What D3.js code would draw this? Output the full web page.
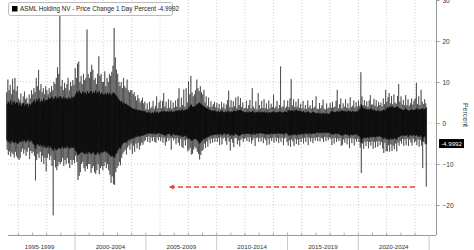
<!DOCTYPE html>
<html><head><meta charset="utf-8">
<script src="https://cdn.jsdelivr.net/npm/d3@7"></script>
<style>body{margin:0;background:#fff}svg{display:block}text{font-family:"Liberation Sans",Arial,sans-serif}</style>
</head><body>
<svg id="c" width="474" height="250"></svg>
<script>
// ---- data ----
const seriesName = "ASML Holding NV - Price Change 1 Day Percent";
const lastValue = -4.9992;
const lastDate = "2024-11-08";
const firstMonth = "1995-03"; // monthly values start here
// monthly highest daily % change
const monthHigh = [
 7.5,10.6,8,9.3,7,10.8,8.2,11,7.8,9,                 // 1995 (Mar-Dec)
 6,5.5,7.2,5,6.5,7.7,5.8,6.2,4.8,7,6,8,              // 1996
 7,8.5,7.5,11,9,13,8,9.5,7.5,8.5,7,9,                // 1997
 8,7,8.5,7.5,9,8,10,9.5,11,13.6,12,27,               // 1998
 9,10.5,8,9.8,8.5,9.5,11,8,10,9,10.5,9.3,            // 1999
 13.4,11,14.5,15,10,11.5,9.5,12,10.5,11,22.8,12,     // 2000
 11,12.5,14.2,13,10.5,11,9.5,12,16.3,11.5,12,10,     // 2001
 10,12.6,9,11,10,12,11.5,12.5,14,23.2,16,13,         // 2002
 12,10,9,10,8.5,11,9,8.5,10.6,8,7.5,8,               // 2003
 8,7,7.5,6.5,5.5,6.8,6,5,5.5,6.2,4.8,5.2,            // 2004
 3.4,4.8,3.3,5.2,3.6,4.0,5.4,3.5,4.2,6.5,3.6,5.0,    // 2005
 5.5,3.6,5.4,7.3,4.0,5.2,3.6,5.8,3.7,5.5,3.5,5.0,    // 2006
 3.8,5.5,4.0,6.0,8.5,3.9,6.2,4.4,8.2,4.0,8.5,5.0,    // 2007
 10.2,7,11.5,7.5,6.5,7,8,10.6,8.5,7.8,9,7.5,         // 2008
 7,8.1,5.0,6.5,4.2,6.2,3.9,5.3,4.0,4.6,5.2,3.8,      // 2009
 4.9,3.6,4.6,3.4,5.2,3.8,4.8,3.5,4.5,5.6,7.9,3.9,    // 2010
 5.6,3.8,5.3,4.1,6.2,3.7,6.5,4.4,6.1,3.9,5.0,3.6,    // 2011
 3.7,5.4,3.5,4.4,5.6,3.6,8.5,4.0,3.5,5.3,3.4,7.3,    // 2012
 4.4,3.5,5.4,3.7,5.8,3.6,4.8,3.4,5.5,3.7,4.7,3.9,    // 2013
 6.9,3.6,4.0,5.4,3.5,4.4,13.8,3.8,4.1,5.6,3.6,4.0,   // 2014
 5.5,3.9,6.0,10.7,4.3,5.8,3.9,5.2,4.0,5.9,3.7,4.7,   // 2015
 3.6,5.4,3.5,4.4,3.4,5.5,3.8,4.3,3.5,5.6,3.7,4.0,    // 2016
 6.5,3.5,3.4,4.9,3.6,4.3,5.7,3.5,3.3,4.8,3.6,3.8,    // 2017
 4.9,3.7,5.2,3.8,4.0,5.4,8.1,3.6,4.6,6.0,3.6,4.8,    // 2018
 4.0,5.8,3.7,4.8,3.6,6.3,3.9,4.2,5.5,3.8,5.1,4.0,    // 2019
 5.5,4.2,12.4,6.5,4.4,5.6,4.2,5.3,4.0,5.5,6.8,4.5,   // 2020
 4.5,5.9,4.2,5.6,4.0,5.2,4.4,5.0,4.1,6.0,4.6,8.1,    // 2021
 5.2,6.3,7.3,4.8,6.6,4.6,7.0,5.0,4.7,6.6,9.5,5.2,    // 2022
 6.5,4.5,5.6,4.3,6.8,4.4,5.8,4.2,4.8,6.0,4.5,5.5,    // 2023
 6.0,9.8,4.6,6.5,4.4,8.1,5.2,4.6,5.8,4.8             // 2024 (Jan-Oct)
];
// monthly lowest daily % change
const monthLow = [
 -6.5,-7.8,-6.9,-8.2,-7.2,-7.6,-8.4,-7,-8.1,-8.6,
 -9,-8.5,-7,-6.2,-7.5,-6.5,-8,-7,-6,-8.8,-6.8,-7.4,
 -7,-8,-14,-9,-7.5,-8.5,-7,-9.5,-8,-10,-8.5,-11.8,
 -8.5,-7.5,-9,-8,-10.5,-22.5,-9,-10.8,-11.5,-10.5,-9.5,-10,
 -9.5,-8.5,-10.5,-9,-10,-8.5,-9.8,-11,-9,-10.2,-9,-9.8,
 -8,-9.5,-13.9,-12.9,-12,-10,-9.5,-11,-11.8,-10.5,-11.2,-10,
 -10,-12.2,-11,-10.5,-12,-12.4,-11.5,-10,-12.5,-11,-10.5,-11.5,
 -10.5,-9.5,-11,-10,-11.5,-12.6,-14.6,-13,-14.9,-15.1,-12,-11,
 -10.5,-9.5,-10.3,-8.5,-7.5,-7,-6.5,-7.7,-6,-5.5,-6.5,-5,
 -7.5,-5.5,-7,-5,-6.2,-4.8,-6.5,-5.5,-4.8,-5.3,-4.5,-4.2,
 -3.4,-4.6,-3.3,-4.8,-3.5,-4.4,-3.4,-4.6,-4.8,-3.5,-4.2,-3.4,
 -4.4,-3.5,-4.8,-3.6,-5.5,-4.6,-3.6,-4.3,-3.7,-6.5,-3.6,-4.2,
 -3.8,-5.2,-3.7,-4.8,-5.5,-3.9,-5.8,-6.1,-4.2,-5.5,-4.0,-6.9,
 -6.5,-6,-7.7,-7.5,-6.5,-5.8,-6.2,-7,-7.5,-8.9,-7.8,-6.8,
 -6.5,-5.0,-6.1,-4.5,-5.8,-4.0,-5.0,-3.8,-4.8,-3.7,-4.6,-3.6,
 -4.6,-3.6,-5.4,-3.5,-5.2,-3.8,-3.5,-4.4,-5.3,-3.6,-4.5,-6.7,
 -3.9,-4.8,-5.9,-3.7,-3.6,-5.2,-4.2,-5.7,-4.1,-3.7,-4.6,-3.8,
 -3.6,-4.4,-3.5,-4.6,-3.5,-5.0,-4.2,-3.6,-5.6,-3.7,-3.5,-4.6,
 -3.6,-4.5,-3.5,-4.9,-3.7,-4.2,-5.4,-3.8,-5.2,-3.7,-4.4,-3.6,
 -4.8,-3.5,-4.5,-3.6,-4.9,-3.7,-4.6,-3.6,-5.4,-3.8,-3.5,-4.6,
 -5.5,-4.2,-5.8,-4.0,-4.5,-5.6,-3.8,-5.1,-4.0,-5.4,-3.9,-4.6,
 -3.7,-5.0,-3.6,-4.6,-3.5,-5.4,-3.6,-4.5,-3.7,-4.9,-3.6,-4.3,
 -3.5,-4.4,-3.4,-4.5,-3.6,-3.8,-4.6,-3.4,-4.4,-3.5,-4.2,-3.5,
 -3.8,-5.4,-3.7,-5.0,-3.6,-4.6,-3.8,-4.4,-3.7,-5.6,-5.3,-4.0,
 -4.8,-3.7,-5.2,-3.8,-6.1,-3.7,-4.9,-3.8,-5.5,-3.9,-4.6,-3.8,
 -4.6,-6.0,-12.2,-5.0,-6.3,-4.6,-5.6,-4.5,-6.2,-4.6,-5.5,-4.5,
 -6.3,-4.6,-6.0,-4.5,-5.8,-4.4,-5.4,-4.6,-6.2,-7.3,-4.8,-6.9,
 -6.9,-5.4,-7.0,-5.2,-6.8,-5.5,-6.4,-5.0,-6.9,-4.8,-5.5,-4.4,
 -5.0,-3.9,-5.6,-4.0,-5.4,-3.8,-5.6,-4.0,-4.7,-5.5,-3.8,-4.8,
 -4.4,-5.4,-4.0,-5.8,-4.1,-5.5,-11.0,-4.6,-5.2,-15.5
];
// monthly typical up-day (edge of the dense core)
const coreHigh = [
 4.6,5.2,4.8,5.5,4.4,5.0,5.3,4.7,5.1,4.9,
 4.3,4.8,4.1,4.6,4.9,4.2,4.5,4.7,4.0,4.6,4.4,4.8,
 5.2,5.7,5.0,5.8,5.4,6.0,5.1,5.5,5.3,5.9,5.2,5.6,
 5.6,6.2,5.8,6.0,6.4,5.7,6.1,6.5,5.9,6.3,6.0,6.6,
 6.2,5.8,6.4,5.9,6.1,5.7,6.3,6.0,5.8,6.4,6.1,6.5,
 7.0,7.6,7.2,7.9,7.4,7.1,7.7,7.3,7.5,7.0,7.8,7.2,
 7.4,7.8,7.1,7.6,7.3,7.9,7.2,7.5,7.7,7.0,7.4,7.1,
 6.8,7.2,6.9,7.4,7.0,7.3,6.7,7.1,7.5,7.2,6.8,6.5,
 6.0,5.6,5.2,5.4,4.8,5.0,4.6,4.7,4.4,4.2,4.0,3.8,
 3.6,3.4,3.5,3.2,3.3,3.0,3.2,3.1,2.9,3.0,2.8,2.9,
 2.6,2.4,2.7,2.5,2.3,2.6,2.4,2.8,2.5,2.7,2.4,2.6,
 2.7,2.9,2.6,3.0,2.8,2.7,2.9,2.6,2.8,3.0,2.7,2.8,
 2.8,3.0,2.9,3.1,3.2,2.9,3.3,3.0,3.2,3.1,3.4,3.3,
 3.8,4.2,4.5,4.0,3.9,4.1,4.3,4.6,4.8,5.0,4.7,4.4,
 4.2,4.0,3.8,3.6,3.5,3.3,3.2,3.0,3.1,2.9,3.0,2.8,
 2.7,2.9,2.6,2.8,3.0,2.7,2.6,2.8,2.7,2.9,2.8,2.6,
 2.8,2.7,3.0,2.9,2.8,3.1,3.0,3.2,3.1,2.9,2.8,2.7,
 2.6,2.7,2.5,2.8,2.6,2.7,2.9,2.6,2.5,2.7,2.6,2.8,
 2.6,2.5,2.7,2.6,2.8,2.5,2.6,2.4,2.7,2.5,2.6,2.7,
 2.8,2.6,2.5,2.7,2.6,2.8,2.7,2.5,2.6,2.8,2.7,2.6,
 3.0,3.2,2.9,3.1,3.0,2.8,3.1,3.3,3.0,2.9,3.0,2.8,
 2.7,2.9,2.6,2.5,2.7,2.8,2.6,2.4,2.5,2.7,2.6,2.5,
 2.4,2.3,2.5,2.2,2.4,2.3,2.5,2.2,2.3,2.4,2.2,2.3,
 2.6,2.9,2.8,2.7,2.6,2.8,2.9,2.7,2.8,3.0,3.1,2.9,
 2.9,2.7,2.8,3.0,2.9,2.8,2.7,2.9,2.8,2.7,2.9,2.8,
 3.2,3.5,4.5,4.0,3.6,3.4,3.5,3.3,3.4,3.2,3.5,3.3,
 3.1,3.3,3.0,2.9,3.1,2.8,3.0,2.9,3.1,3.2,3.0,3.4,
 3.9,3.7,4.0,3.8,4.1,3.9,3.7,3.8,4.0,3.9,3.6,3.5,
 3.4,3.2,3.1,3.3,3.5,3.2,3.0,3.1,3.2,3.3,3.1,3.2,
 3.3,3.6,3.2,3.4,3.3,3.5,3.6,3.3,3.4,3.8
];
// monthly typical down-day (edge of the dense core)
const coreLow = [
 -4.2,-4.7,-4.4,-5.0,-4.3,-4.6,-4.9,-4.5,-4.8,-5.1,
 -4.8,-4.4,-4.6,-4.1,-4.5,-4.2,-4.7,-4.3,-4.0,-4.6,-4.2,-4.5,
 -5.0,-5.4,-6.2,-5.3,-5.1,-5.6,-5.2,-5.7,-5.4,-5.9,-5.5,-6.1,
 -5.8,-5.5,-6.0,-5.7,-6.3,-6.8,-6.0,-6.4,-6.6,-6.2,-6.0,-6.3,
 -6.0,-5.7,-6.2,-5.9,-6.1,-5.6,-6.0,-6.3,-5.8,-6.1,-5.9,-6.2,
 -6.8,-7.2,-7.8,-7.6,-7.3,-7.0,-7.1,-7.4,-7.6,-7.2,-7.5,-7.0,
 -7.2,-7.6,-7.3,-7.0,-7.5,-7.8,-7.4,-7.1,-7.7,-7.3,-7.0,-7.2,
 -7.0,-6.8,-7.2,-7.0,-7.5,-7.8,-8.2,-7.9,-8.3,-8.4,-7.6,-7.2,
 -6.5,-6.0,-6.2,-5.5,-5.0,-4.8,-4.6,-4.8,-4.3,-4.0,-4.2,-3.8,
 -3.8,-3.5,-3.7,-3.3,-3.4,-3.1,-3.3,-3.2,-3.0,-3.1,-2.9,-2.8,
 -2.5,-2.7,-2.4,-2.6,-2.5,-2.7,-2.4,-2.6,-2.8,-2.5,-2.6,-2.4,
 -2.7,-2.6,-2.8,-2.9,-3.1,-2.8,-2.7,-2.6,-2.8,-3.2,-2.7,-2.6,
 -2.9,-3.0,-2.8,-3.0,-3.2,-2.9,-3.3,-3.4,-3.2,-3.0,-3.3,-3.6,
 -3.9,-3.8,-4.3,-4.2,-4.0,-3.8,-3.9,-4.2,-4.5,-5.0,-4.7,-4.3,
 -4.0,-3.8,-3.7,-3.6,-3.4,-3.3,-3.1,-2.9,-3.0,-2.9,-2.8,-2.8,
 -2.8,-2.6,-2.8,-2.6,-3.0,-2.7,-2.5,-2.7,-2.8,-2.6,-2.7,-3.1,
 -2.8,-2.9,-3.1,-2.7,-2.6,-2.9,-3.0,-3.1,-2.9,-2.7,-2.6,-2.7,
 -2.6,-2.5,-2.7,-2.5,-2.8,-2.6,-2.8,-2.5,-2.9,-2.6,-2.4,-2.6,
 -2.5,-2.4,-2.6,-2.5,-2.7,-2.6,-2.8,-2.7,-2.8,-2.6,-2.5,-2.7,
 -2.6,-2.5,-2.7,-2.4,-2.6,-2.5,-2.7,-2.5,-2.8,-2.6,-2.4,-2.5,
 -2.9,-3.1,-2.8,-3.0,-2.8,-2.9,-2.7,-3.0,-2.8,-2.7,-2.9,-2.7,
 -2.6,-2.8,-2.5,-2.6,-2.5,-2.8,-2.4,-2.6,-2.7,-2.5,-2.6,-2.5,
 -2.4,-2.2,-2.5,-2.3,-2.5,-2.3,-2.4,-2.2,-2.5,-2.3,-2.4,-2.3,
 -2.6,-2.8,-2.7,-2.8,-2.5,-2.6,-2.7,-2.6,-2.9,-3.0,-3.1,-2.8,
 -2.8,-2.7,-2.9,-2.8,-3.2,-2.7,-2.9,-3.0,-2.7,-2.9,-2.6,-2.9,
 -3.2,-3.5,-4.8,-3.9,-3.5,-3.6,-3.7,-3.4,-3.6,-3.5,-3.3,-3.5,
 -3.4,-3.3,-3.5,-3.2,-3.4,-3.1,-3.3,-3.4,-3.6,-3.9,-3.5,-3.8,
 -4.0,-3.8,-4.1,-3.7,-4.0,-3.9,-3.6,-3.8,-4.0,-3.5,-3.4,-3.2,
 -3.1,-2.9,-3.2,-3.0,-3.1,-2.8,-3.3,-3.0,-2.9,-3.2,-2.8,-3.0,
 -3.1,-2.9,-3.2,-3.4,-3.0,-3.3,-4.5,-3.5,-3.2,-5.0
];
const yTicks = [30,20,10,0,-10,-20];
const periodLabels = ["1995-1999","2000-2004","2005-2009","2010-2014","2015-2019","2020-2024"];
const periodStarts = [1995,2000,2005,2010,2015,2020];
const arrowValue = -15.6, arrowFrom = "2024-01-01", arrowTo = "2006-08-15";

// ---- scales ----
const svg = d3.select("#c");
const x = d3.scaleTime().domain([new Date(1995,0,1), new Date(2025,0,1)]).range([4.2, 429.2]);
const y = d3.scaleLinear().domain([-27.3, 30]).range([235, 0]);
const plotL = 8, plotR = 436, plotB = 235;

// gridlines
const g = svg.append("g");
g.selectAll("line.h").data(yTicks.filter(v=>v<30)).join("line")
  .attr("x1", plotL).attr("x2", plotR).attr("y1", d=>y(d)).attr("y2", d=>y(d))
  .attr("stroke","#c4c4c4").attr("stroke-width",0.8).attr("stroke-dasharray","1,2");
const gridYears = d3.range(1996, 2025, 2).map(yr => new Date(yr,0,1));
g.selectAll("line.v").data(gridYears).join("line")
  .attr("x1", d=>x(d)).attr("x2", d=>x(d)).attr("y1", 0).attr("y2", plotB)
  .attr("stroke","#c4c4c4").attr("stroke-width",0.8).attr("stroke-dasharray","1,2");

// series: within each month visit core edges and the month's extremes
const [fy, fm] = firstMonth.split("-").map(Number);
const pts = [];
monthHigh.forEach((h,i)=>{
  const mo = fm-1+i;
  pts.push([new Date(fy, mo, 2),  coreHigh[i]]);
  pts.push([new Date(fy, mo, 6),  h]);
  pts.push([new Date(fy, mo, 8),  coreLow[i]]);
  pts.push([new Date(fy, mo, 11), coreHigh[i]]);
  pts.push([new Date(fy, mo, 14), coreLow[i]]);
  pts.push([new Date(fy, mo, 18), monthLow[i]]);
  pts.push([new Date(fy, mo, 21), coreHigh[i]]);
  pts.push([new Date(fy, mo, 25), coreLow[i]]);
});
pts.push([new Date(lastDate), lastValue]);
svg.append("path").datum(pts)
  .attr("d", d3.line().x(d=>x(d[0])).y(d=>y(d[1])))
  .attr("fill","none").attr("stroke","#000").attr("stroke-width",0.45);

// bottom axis
svg.append("line").attr("x1",plotL).attr("x2",plotR).attr("y1",plotB+0.5).attr("y2",plotB+0.5).attr("stroke","#999");
const years = d3.range(1996, 2025).map(yr=>new Date(yr,0,1));
svg.selectAll("line.yt").data(years).join("line")
  .attr("x1",d=>x(d)).attr("x2",d=>x(d)).attr("y1",plotB-2.5).attr("y2",plotB)
  .attr("stroke","#999").attr("stroke-width",0.8);
const seps = d3.range(2000, 2026, 5).map(yr=>new Date(yr,0,1));
svg.selectAll("line.sep").data(seps).join("line")
  .attr("x1",d=>x(d)).attr("x2",d=>x(d)).attr("y1",plotB).attr("y2",250)
  .attr("stroke","#bbb").attr("stroke-width",0.8);
svg.selectAll("text.pl").data(periodLabels).join("text")
  .attr("x",(d,i)=>(x(new Date(periodStarts[i],0,1))+x(new Date(periodStarts[i]+5,0,1)))/2)
  .attr("y",248.5).attr("text-anchor","middle").attr("font-size",6.2).attr("fill","#333").text(d=>d);

// right axis
const ax = svg.append("g").attr("transform",`translate(${plotR+0.5},0)`)
  .call(d3.axisRight(y).tickValues(yTicks).tickSize(3).tickPadding(3));
ax.select(".domain").attr("stroke","#999").attr("d", `M0,0V${plotB}`);
ax.selectAll(".tick line").attr("stroke","#999");
ax.selectAll(".tick text").attr("font-size",6.5).attr("fill","#333").attr("font-family","Liberation Sans, Arial, sans-serif");
svg.append("text").attr("transform","translate(463,115) rotate(90)").attr("text-anchor","middle")
  .attr("font-size",7).attr("fill","#444").text("Percent");

// last value tag
const ly = y(lastValue);
svg.append("rect").attr("x",439).attr("y",ly-4.5).attr("width",25).attr("height",9).attr("fill","#000");
svg.append("text").attr("x",451.5).attr("y",ly+2.3).attr("text-anchor","middle").attr("font-size",6.2)
  .attr("fill","#fff").text(lastValue.toFixed(4));

// red dashed arrow
const ay = y(arrowValue), ax1 = x(new Date(arrowFrom)), ax2 = x(new Date(arrowTo));
svg.append("line").attr("x1",ax1).attr("x2",ax2+4).attr("y1",ay).attr("y2",ay)
  .attr("stroke","#e8412f").attr("stroke-width",1.6).attr("stroke-dasharray","5,3");
svg.append("path").attr("d",`M${ax2},${ay}L${ax2+5},${ay-2.6}L${ax2+5},${ay+2.6}Z`).attr("fill","#e8412f");

// legend
const lg = svg.append("g");
lg.append("rect").attr("x",8.5).attr("y",2.5).attr("width",164).attr("height",13).attr("rx",2)
  .attr("fill","#fff").attr("stroke","#bbb");
lg.append("rect").attr("x",12).attr("y",6).attr("width",5.5).attr("height",5.5).attr("fill","#000");
lg.append("text").attr("x",20).attr("y",11.4).attr("font-size",6.3).attr("fill","#222")
  .text(`${seriesName} ${lastValue}`);
</script>
</body></html>
